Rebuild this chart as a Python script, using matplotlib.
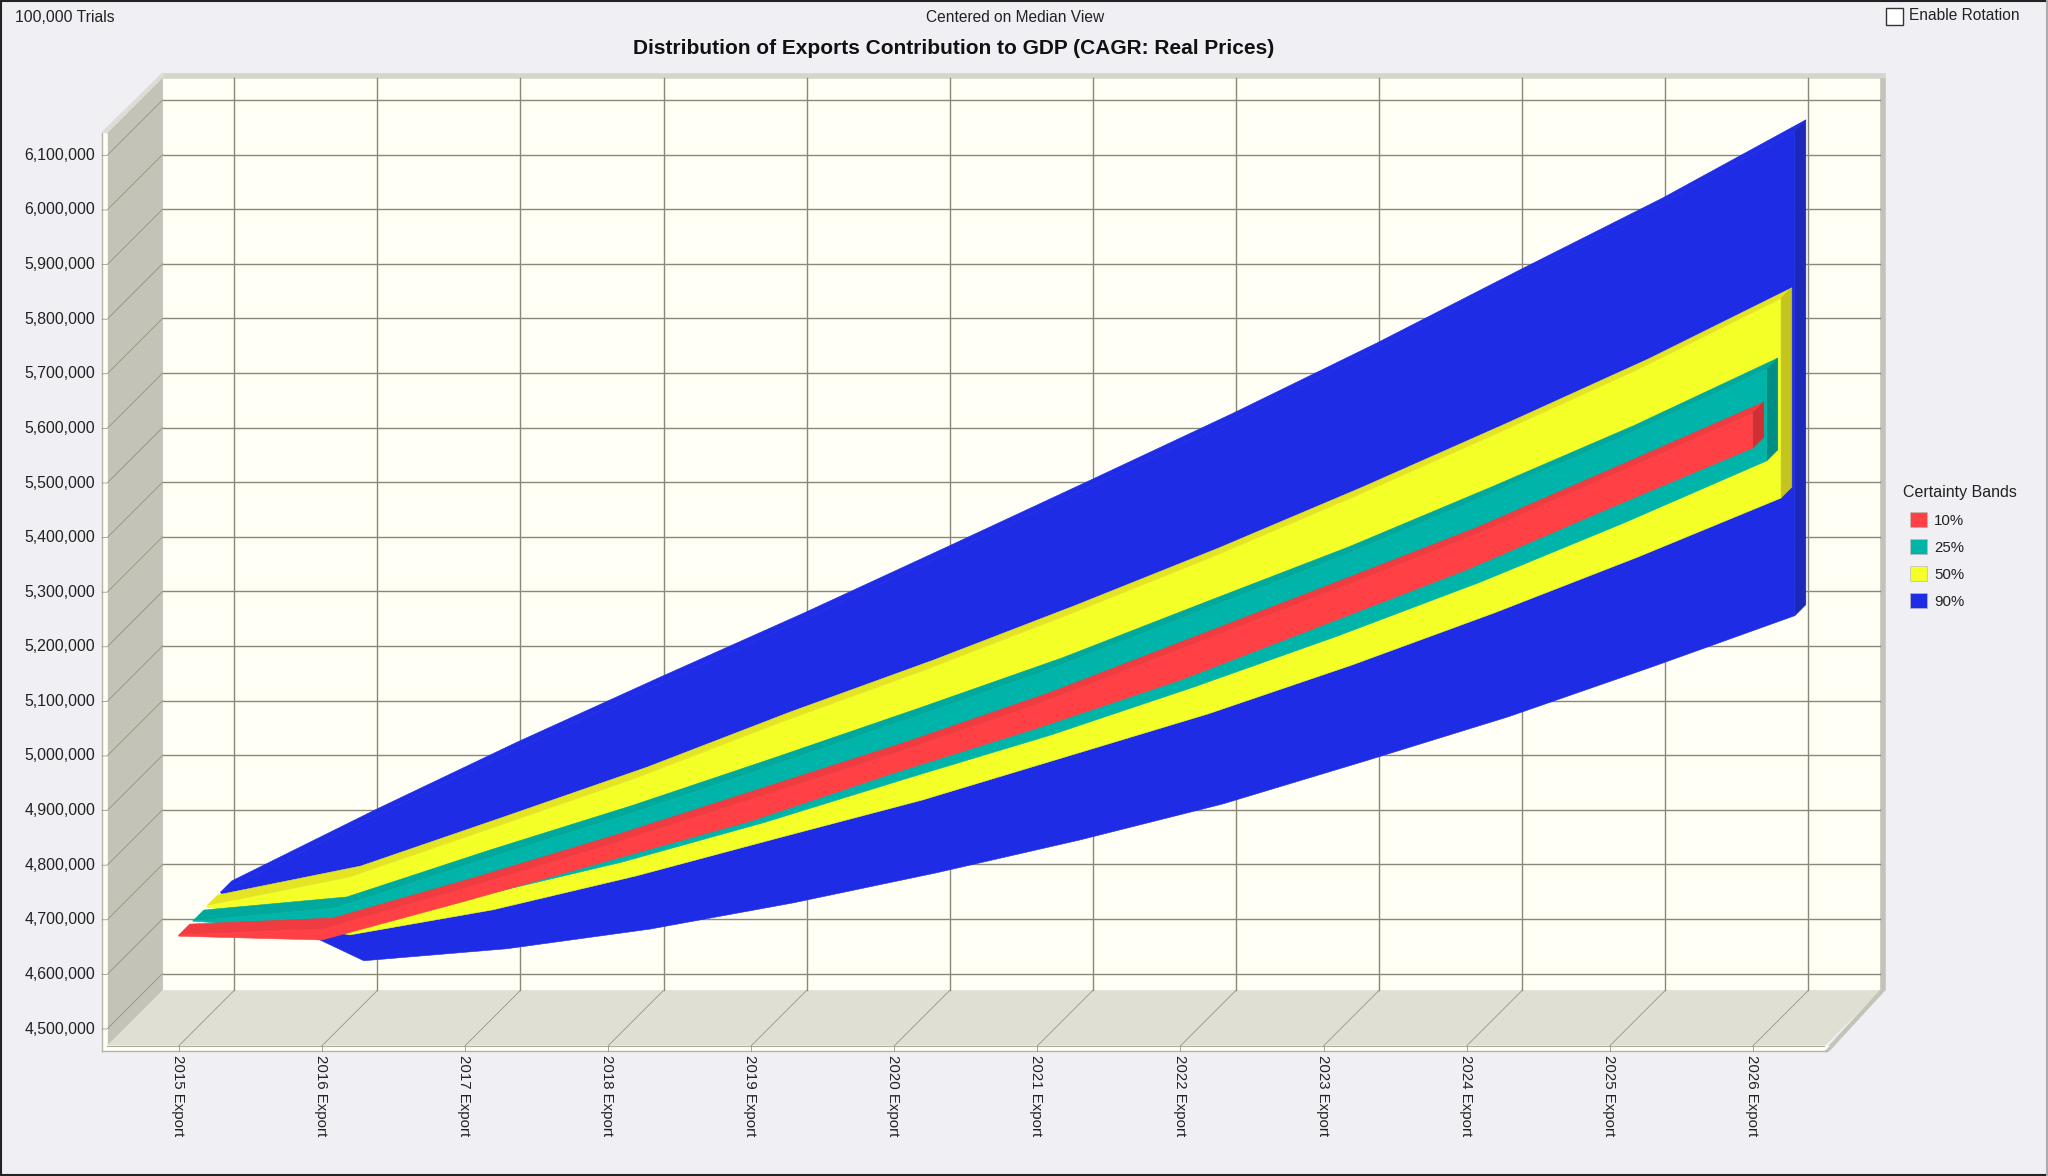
import matplotlib
matplotlib.use("Agg")
import matplotlib.pyplot as plt
import numpy as np
from matplotlib.patches import Patch, Rectangle

plt.rcParams["font.family"] = ["Liberation Sans", "DejaVu Sans"]

categories = ["2015 Export", "2016 Export", "2017 Export", "2018 Export",
              "2019 Export", "2020 Export", "2021 Export", "2022 Export",
              "2023 Export", "2024 Export", "2025 Export", "2026 Export"]
value_ticks = [4500000, 4600000, 4700000, 4800000, 4900000, 5000000,
               5100000, 5200000, 5300000, 5400000, 5500000, 5600000,
               5700000, 5800000, 5900000, 6000000, 6100000]

band_names = ["10%", "25%", "50%", "90%"]

low_10 = [4670000, 4663000, 4734000, 4808000, 4881000, 4969000,
          5051000, 5139000, 5240000, 5341000, 5454000, 5564000]
high_10 = [4672000, 4683000, 4758000, 4837000, 4921000, 5005000,
           5095000, 5196000, 5297000, 5399000, 5513000, 5628000]
low_25 = [4672000, 4652000, 4718000, 4780000, 4853000, 4934000,
          5013000, 5101000, 5194000, 5293000, 5401000, 5515000]
high_25 = [4672000, 4696000, 4782000, 4864000, 4952000, 5042000,
           5134000, 5236000, 5337000, 5447000, 5560000, 5683000]
low_50 = [4672000, 4621000, 4667000, 4729000, 4799000, 4868000,
          4947000, 5026000, 5115000, 5211000, 5313000, 5421000]
high_50 = [4674000, 4727000, 4817000, 4908000, 5009000, 5104000,
           5205000, 5310000, 5421000, 5537000, 5656000, 5786000]
low_90 = [4672000, 4548000, 4570000, 4606000, 4654000, 4709000,
          4769000, 4835000, 4914000, 4995000, 5086000, 5180000]
high_90 = [4674000, 4804000, 4929000, 5048000, 5165000, 5286000,
           5408000, 5531000, 5659000, 5793000, 5925000, 6068000]

# face colours per band: front, top, right end
front_colors = ["#FF4044", "#00B4AA", "#F4FF28", "#1E2CE6"]
top_colors = ["#F03C40", "#00A89E", "#E4E424", "#1E2CE6"]
end_colors = ["#D03034", "#008E84", "#C4C41E", "#1C28B8"]

BG = "#EFEFF4"
WALL = "#FFFFF5"
FLOOR_C = "#E0DFD4"
SIDE_C = "#C4C3B8"
GRID_C = "#8A8878"
TEXT_C = "#222222"

# pixel scale of the category and value axes
PX_CAT = 143.1
PX_VAL = 54.6 / 100000
X0_PX, Y0_PX = 178.7, 1029.0

# depth of the 3D box, in axis units
DX = 55.5 / PX_CAT
DY = 55.5 / PX_VAL
LEFT, RIGHT = -0.5, 11.5
FLOOR, TOP = 4469000, 6141000
EDGE_X = 5 / PX_CAT
EDGE_Y = 5 / PX_VAL


def project(i, v, depth):
    """Category index and value at a depth fraction to axis coordinates."""
    return np.asarray(i) + depth * DX, np.asarray(v) + depth * DY


def poly(ax, xs, ys, color, z):
    ax.fill(xs, ys, facecolor=color, edgecolor=color, lw=0.4, zorder=z)


fig = plt.figure(figsize=(20.48, 11.76), dpi=100, facecolor=BG)
ax = fig.add_axes([0, 0, 1, 1])
ax.set_xlim((0 - X0_PX) / PX_CAT, (2048 - X0_PX) / PX_CAT)
ax.set_ylim(4500000 - (1176 - Y0_PX) / PX_VAL, 4500000 + Y0_PX / PX_VAL)
ax.axis("off")

# box: back wall, left wall, floor and their rims
bx0, _ = project(LEFT, 0, 1)
bx1, _ = project(RIGHT, 0, 1)
_, by0 = project(0, FLOOR, 1)
_, by1 = project(0, TOP, 1)
poly(ax, [bx0, bx1, bx1, bx0], [by0, by0, by1, by1], WALL, 1)
poly(ax, [LEFT, bx0, bx0, LEFT], [FLOOR, by0, by1, TOP], SIDE_C, 1)
poly(ax, [LEFT, RIGHT, bx1, bx0], [FLOOR, FLOOR, by0, by0], FLOOR_C, 1)
poly(ax, [bx0, bx1 + EDGE_X, bx1 + EDGE_X, bx0], [by1, by1, by1 + EDGE_Y, by1 + EDGE_Y], "#D6D5CA", 1)
poly(ax, [bx1, bx1 + EDGE_X, bx1 + EDGE_X, bx1], [by0, by0, by1, by1], SIDE_C, 1)
poly(ax, [LEFT - EDGE_X, bx0, bx0, LEFT], [TOP + EDGE_Y * 0.2, by1 + EDGE_Y, by1, TOP], "#DEDDD3", 1)
poly(ax, [RIGHT, bx1, bx1 + EDGE_X, RIGHT + EDGE_X],
     [FLOOR - EDGE_Y, by0, by0, FLOOR - EDGE_Y], SIDE_C, 1)
poly(ax, [LEFT, RIGHT + EDGE_X, RIGHT, LEFT],
     [FLOOR, FLOOR, FLOOR - EDGE_Y, FLOOR - EDGE_Y], WALL, 1)
poly(ax, [LEFT - EDGE_X, LEFT, LEFT, LEFT - EDGE_X],
     [FLOOR - EDGE_Y, FLOOR - EDGE_Y, TOP, TOP], WALL, 1)
ax.plot([LEFT - EDGE_X, RIGHT + EDGE_X * 0.5], [FLOOR - EDGE_Y] * 2, color="#B4B3A8", lw=1.0, zorder=2)
ax.plot([LEFT, RIGHT], [FLOOR, FLOOR], color="#AEAD9F", lw=0.8, zorder=2)
ax.plot([LEFT - EDGE_X] * 2, [FLOOR - EDGE_Y, TOP], color="#B4B3A8", lw=1.0, zorder=2)

# grid on the walls and floor
for v in value_ticks:
    ax.plot([bx0, bx1], [v + DY, v + DY], color=GRID_C, lw=1.0, zorder=2)
    ax.plot([LEFT - EDGE_X, LEFT, bx0], [v, v, v + DY], color=GRID_C, lw=0.5, zorder=2)
    ax.text(LEFT - 2.4 * EDGE_X, v, f"{v:,}", ha="right", va="center", fontsize=11.4, color=TEXT_C)
for i, label in enumerate(categories):
    ax.plot([i + DX, i + DX], [by0, by1], color=GRID_C, lw=1.0, zorder=2)
    ax.plot([i, i + DX], [FLOOR, by0], color=GRID_C, lw=0.5, zorder=2)
    ax.plot([i, i], [FLOOR - EDGE_Y, FLOOR], color=GRID_C, lw=0.5, zorder=2)
    ax.text(i - 0.006, FLOOR - 1.9 * EDGE_Y, label, rotation=270, ha="center", va="top",
            fontsize=10.8, color=TEXT_C)

# certainty bands, back to front
lows = [low_10, low_25, low_50, low_90]
highs = [high_10, high_25, high_50, high_90]
idx = np.arange(len(categories))
for b in [3, 2, 1, 0]:
    d0 = b * 0.2525
    d1 = d0 + 0.198
    z = 10 + (3 - b)
    hx0, hy0 = project(idx, highs[b], d0)
    hx1, hy1 = project(idx, highs[b], d1)
    lx0, ly0 = project(idx, lows[b], d0)
    lx1, ly1 = project(idx, lows[b], d1)
    poly(ax, np.r_[hx0, hx1[::-1]], np.r_[hy0, hy1[::-1]], top_colors[b], z)
    poly(ax, [lx0[-1], hx0[-1], hx1[-1], lx1[-1]], [ly0[-1], hy0[-1], hy1[-1], ly1[-1]], end_colors[b], z)
    poly(ax, np.r_[lx0, hx0[::-1]], np.r_[ly0, hy0[::-1]], front_colors[b], z)

# header texts
fig.text(15 / 2048, 1 - 17 / 1176, "100,000 Trials", fontsize=11.3, color=TEXT_C, va="center")
fig.text(1015 / 2048, 1 - 17 / 1176, "Centered on Median View", fontsize=11.2, color=TEXT_C,
         ha="center", va="center")
fig.text(954 / 2048, 1 - 48 / 1176, "Distribution of Exports Contribution to GDP (CAGR: Real Prices)",
         fontsize=15.0, fontweight="bold", color="#111111", ha="center", va="center")
fig.text(1909 / 2048, 1 - 16 / 1176, "Enable Rotation", fontsize=11.2, color=TEXT_C, va="center")
fig.add_artist(Rectangle((1886 / 2048, 1 - 25 / 1176), 17 / 2048, 17 / 1176, transform=fig.transFigure,
                         facecolor="white", edgecolor="#333333", lw=1.0))

# legend
fig.text(1903 / 2048, 1 - 492 / 1176, "Certainty Bands", fontsize=11.5, color=TEXT_C, va="center")
handles = [Patch(facecolor=c, edgecolor="#BBBBBB", lw=0.5) for c in front_colors]
ax.legend(handles, band_names, loc="upper left",
          bbox_to_anchor=(1898 / 2048, 1 - 500 / 1176), frameon=False, fontsize=10.8,
          handlelength=1.15, handleheight=1.15,
          handletextpad=0.45, labelspacing=0.77, borderpad=0.3, labelcolor=TEXT_C)

# window border
for xs, ys, c in [((0, 1), (0.9988, 0.9988), "#222222"), ((0, 1), (0.0012, 0.0012), "#222222"),
                  ((0.0006, 0.0006), (0, 1), "#222222"), ((0.9994, 0.9994), (0, 1), "#AAAAAA")]:
    fig.add_artist(plt.Line2D(xs, ys, transform=fig.transFigure, color=c, lw=1.5))

fig.savefig("out.png", dpi=100, facecolor=BG)
